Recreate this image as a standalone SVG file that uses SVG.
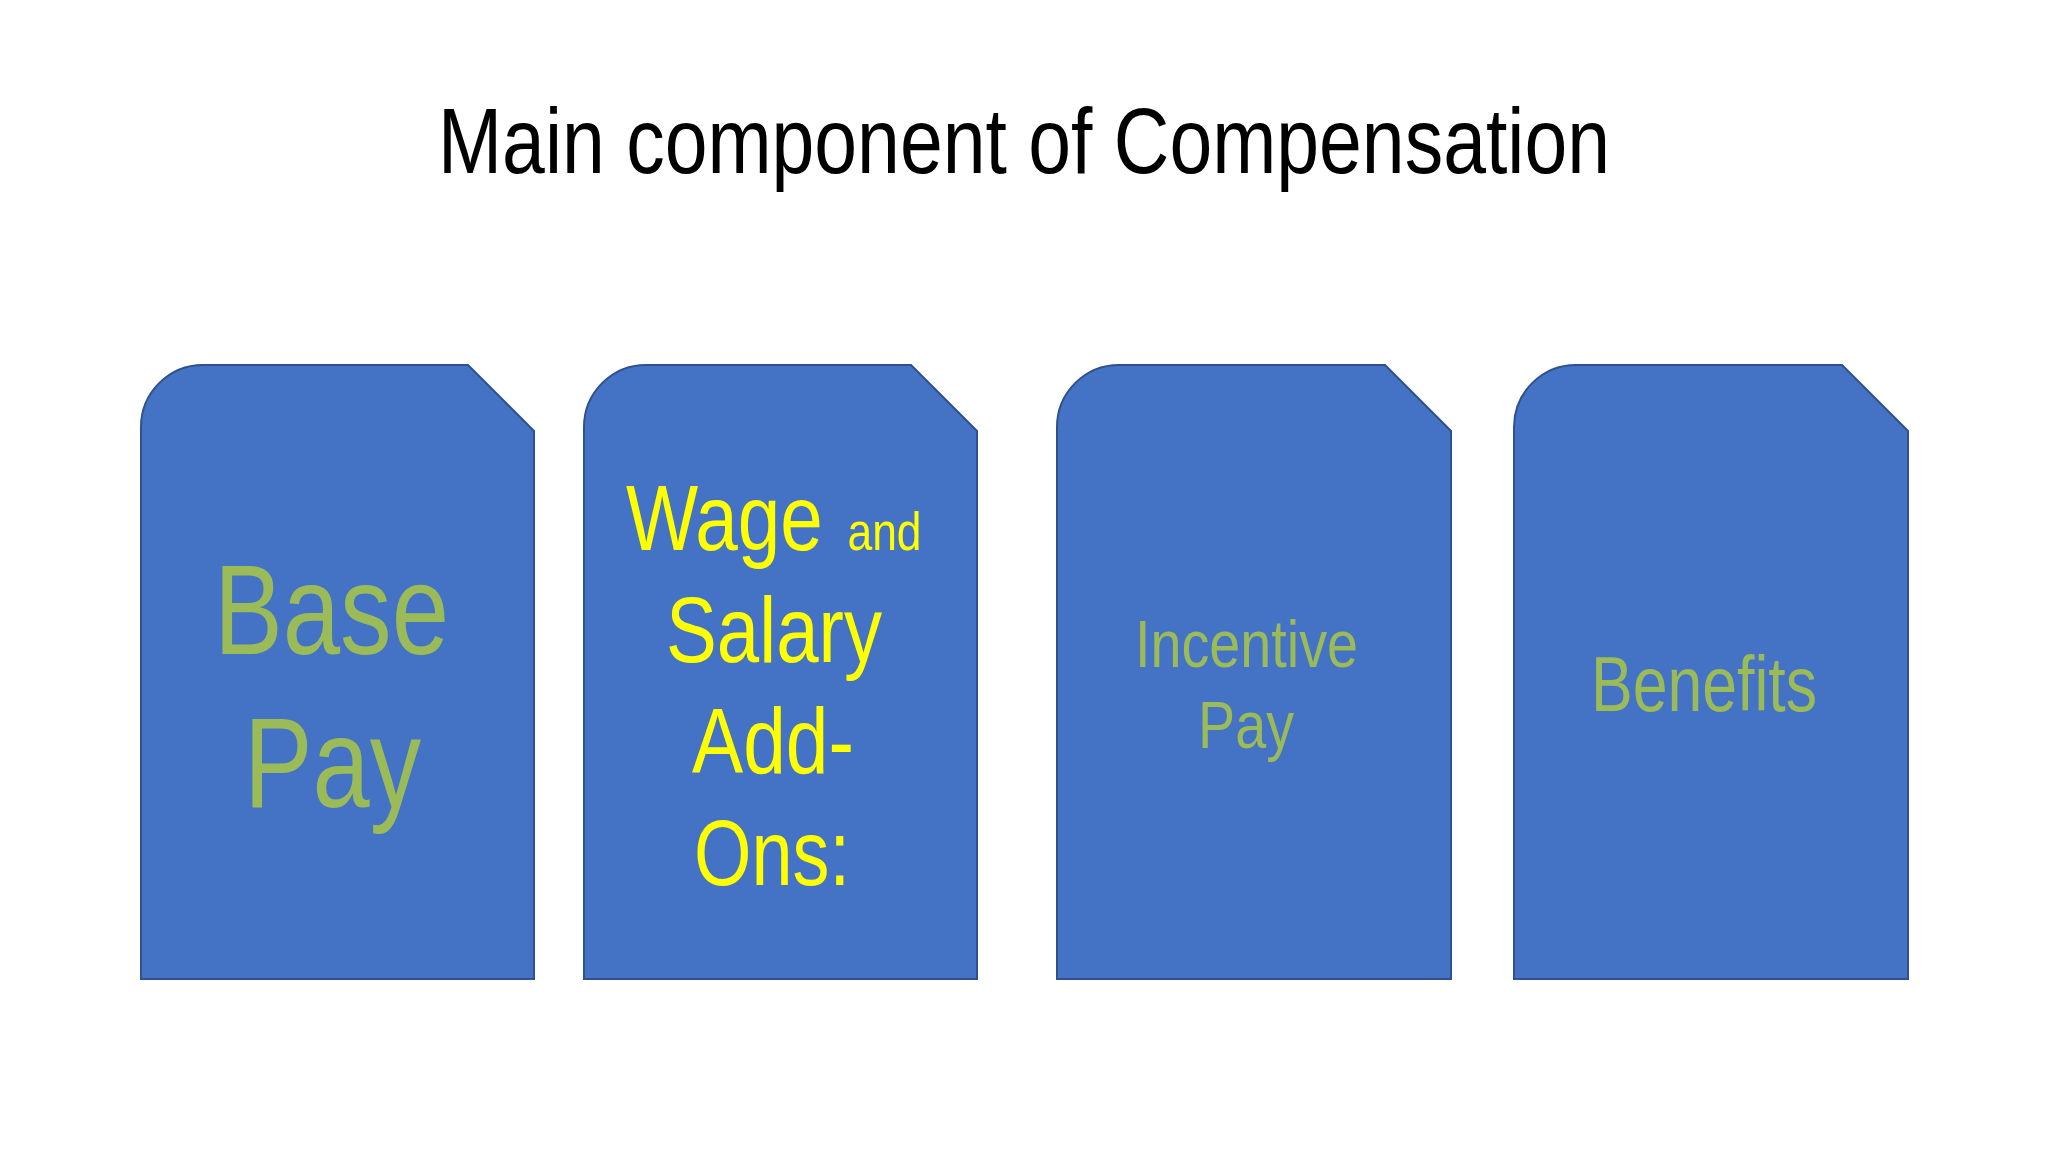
<svg xmlns="http://www.w3.org/2000/svg" width="2048" height="1152" viewBox="0 0 2048 1152">
<style>
.card{fill:#4472C4;stroke:#2F528F;stroke-width:2}
.t{font-family:"Liberation Sans",Arial,sans-serif}
.g{fill:#9BBB59}
.y{fill:#FFFF00}
</style>
<rect width="2048" height="1152" fill="#FFFFFF"/>
<text id="title" class="t" x="438" y="173" font-size="93" fill="#000000" textLength="1172" lengthAdjust="spacingAndGlyphs">Main component of Compensation</text>
<g id="connectors"></g>
<g id="node-base-pay">
<path class="card" d="M141,979 L141,427 A62,62 0 0 1 203,365 L468,365 L534,431 L534,979 Z"/>
<text class="t g" x="214" y="654" font-size="128" textLength="235" lengthAdjust="spacingAndGlyphs">Base</text>
<text class="t g" x="244" y="807" font-size="128" textLength="177" lengthAdjust="spacingAndGlyphs">Pay</text>
</g>
<g id="node-wage-salary">
<path class="card" d="M584,979 L584,427 A62,62 0 0 1 646,365 L911,365 L977,431 L977,979 Z"/>
<text class="t y" transform="translate(626,550) scale(0.822,1)" x="0" y="0"><tspan font-size="93">Wage</tspan><tspan font-size="54" dx="30">and</tspan></text>
<text class="t y" x="666" y="662" font-size="93" textLength="216" lengthAdjust="spacingAndGlyphs">Salary</text>
<text class="t y" x="692" y="773" font-size="93" textLength="162" lengthAdjust="spacingAndGlyphs">Add-</text>
<text class="t y" x="694" y="885" font-size="93" textLength="156" lengthAdjust="spacingAndGlyphs">Ons:</text>
</g>
<g id="node-incentive-pay">
<path class="card" d="M1057,979 L1057,427 A62,62 0 0 1 1119,365 L1385,365 L1451,431 L1451,979 Z"/>
<text class="t g" x="1135" y="667" font-size="67" textLength="223" lengthAdjust="spacingAndGlyphs">Incentive</text>
<text class="t g" x="1198" y="748" font-size="67" textLength="96" lengthAdjust="spacingAndGlyphs">Pay</text>
</g>
<g id="node-benefits">
<path class="card" d="M1514,979 L1514,427 A62,62 0 0 1 1576,365 L1842,365 L1908,431 L1908,979 Z"/>
<text class="t g" x="1591" y="711" font-size="77" textLength="226" lengthAdjust="spacingAndGlyphs">Benefits</text>
</g>
</svg>
